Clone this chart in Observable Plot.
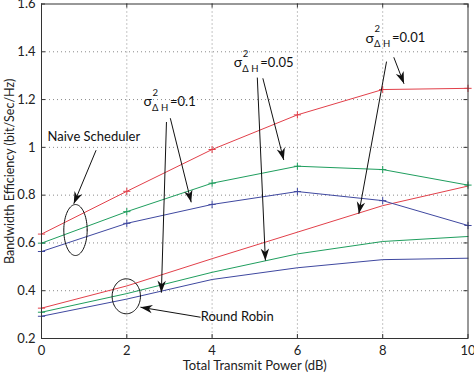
<!DOCTYPE html>
<html>
<head>
<meta charset="utf-8">
<script src="https://cdn.jsdelivr.net/npm/d3@7"></script>
<script src="https://cdn.jsdelivr.net/npm/@observablehq/plot@0.6"></script>
<style>
  html, body { margin: 0; padding: 0; background: #fff; }
  #chart { width: 474px; height: 373px; }
</style>
</head>
<body>
<div id="chart"></div>
<script>
// ---- data ----
const power = [0, 2, 4, 6, 8, 10];
const naive001 = [0.637, 0.816, 0.991, 1.136, 1.242, 1.247];
const naive005 = [0.599, 0.731, 0.850, 0.921, 0.907, 0.842];
const naive01  = [0.564, 0.682, 0.761, 0.815, 0.777, 0.673];
const rr001 = [0.327, 0.420, 0.534, 0.645, 0.756, 0.838];
const rr005 = [0.310, 0.388, 0.477, 0.554, 0.606, 0.627];
const rr01  = [0.293, 0.365, 0.447, 0.496, 0.530, 0.536];

const xTicks = [0, 2, 4, 6, 8, 10];
const yTicks = [0.2, 0.4, 0.6, 0.8, 1, 1.2, 1.4, 1.6];
const xLabel = "Total Transmit Power (dB)";
const yLabel = "Bandwidth Efficiency (bit/Sec/Hz)";

const red = "#e2404a", green = "#1f9e5e", blue = "#3f48a0";

// annotations (data units)
const textNotes = [
  {x: 1.227, y: 1.045, text: "Naive Scheduler"},
  {x: 4.588, y: 0.289, text: "Round Robin"}
];
const sigmaNotes = [
  {x: 2.392, y: 1.192, value: "=0.1"},
  {x: 4.509, y: 1.353, value: "=0.05"},
  {x: 7.597, y: 1.457, value: "=0.01"}
];
const arrows = [
  {x1: 1.28, y1: 0.988, x2: 0.757, y2: 0.764},
  {x1: 3.73, y1: 0.289, x2: 2.32, y2: 0.331},
  {x1: 2.93, y1: 1.106, x2: 2.81, y2: 0.392},
  {x1: 3.02, y1: 1.122, x2: 3.51, y2: 0.770},
  {x1: 5.06, y1: 1.292, x2: 5.25, y2: 0.526},
  {x1: 5.19, y1: 1.289, x2: 5.68, y2: 0.947},
  {x1: 8.09, y1: 1.359, x2: 7.44, y2: 0.722},
  {x1: 8.26, y1: 1.377, x2: 8.50, y2: 1.266}
];
const ellipses = [
  {cx: 0.797, cy: 0.654, rx: 0.274, ry: 0.1067},
  {cx: 1.988, cy: 0.3766, rx: 0.332, ry: 0.0732}
];

// ---- layout ----
const W = 474, H = 373, mL = 41, mR = 6.5, mT = 3.5, mB = 35;
const fw = W - mL - mR, fh = H - mT - mB;
const font = "Lato, 'Open Sans', sans-serif";
const xDomain = [0, 10], yDomain = [0.2, 1.6];
const kx = fw / (xDomain[1] - xDomain[0]);
const ky = fh / (yDomain[1] - yDomain[0]);

// ---- build tables ----
const toRows = (ys, series) => power.map((x, i) => ({x, y: ys[i], series}));
const naiveRows = [
  ...toRows(naive001, "n001"), ...toRows(naive005, "n005"), ...toRows(naive01, "n01")
];
const rrRows = [
  ...toRows(rr001, "r001"), ...toRows(rr005, "r005"), ...toRows(rr01, "r01")
];
const colorOf = s => s.endsWith("001") ? red : s.endsWith("005") ? green : blue;

const ellipseRows = ellipses.flatMap((e, k) =>
  d3.range(0, 73).map(i => {
    const t = (i / 72) * 2 * Math.PI;
    return {k, x: e.cx + e.rx * Math.cos(t), y: e.cy + e.ry * Math.sin(t)};
  })
);

// arrow heads: rotation in screen space
const headRows = arrows.map(a => {
  const dxp = (a.x2 - a.x1) * kx, dyp = -(a.y2 - a.y1) * ky;
  return {x: a.x2, y: a.y2, angle: Math.atan2(dxp, -dyp) * 180 / Math.PI};
});

const plusSymbol = {
  draw(ctx, size) {
    const r = Math.sqrt(size / Math.PI);
    ctx.moveTo(-r, 0); ctx.lineTo(r, 0);
    ctx.moveTo(0, -r); ctx.lineTo(0, r);
  }
};
const headSymbol = {
  draw(ctx) {
    ctx.moveTo(0, 0);
    ctx.lineTo(4.2, 12);
    ctx.lineTo(0, 8.5);
    ctx.lineTo(-4.2, 12);
    ctx.closePath();
  }
};

const chart = Plot.plot({
  width: W, height: H,
  marginLeft: mL, marginRight: mR, marginTop: mT, marginBottom: mB,
  style: {fontFamily: font, fontSize: "13px", background: "#fff", color: "#222"},
  x: {domain: xDomain, label: null},
  y: {domain: yDomain, label: null},
  marks: [
    Plot.gridX([2, 4, 6, 8], {stroke: "#8a8a8a", strokeOpacity: 1, strokeDasharray: "1,3"}),
    Plot.gridY([0.4, 0.6, 0.8, 1, 1.2, 1.4], {stroke: "#8a8a8a", strokeOpacity: 1, strokeDasharray: "1,3"}),
    // inward ticks
    Plot.tickX(xTicks, {x: d => d, insetTop: fh - 4, stroke: "#333"}),
    Plot.tickX(xTicks, {x: d => d, insetBottom: fh - 4, stroke: "#333"}),
    Plot.tickY(yTicks, {y: d => d, insetRight: fw - 4, stroke: "#333"}),
    Plot.tickY(yTicks, {y: d => d, insetLeft: fw - 4, stroke: "#333"}),
    Plot.axisX(xTicks, {tickSize: 0, tickPadding: 7, fontSize: 13, tickFormat: d => String(d)}),
    Plot.axisY(yTicks, {tickSize: 0, tickPadding: 6, fontSize: 13, tickFormat: d => String(+d.toFixed(1))}),
    // series
    Plot.line(rrRows, {x: "x", y: "y", z: "series", stroke: d => colorOf(d.series), strokeWidth: 1}),
    Plot.line(naiveRows, {x: "x", y: "y", z: "series", stroke: d => colorOf(d.series), strokeWidth: 1}),
    Plot.dot(naiveRows, {x: "x", y: "y", r: 3.6, symbol: plusSymbol, stroke: d => colorOf(d.series), fill: "none", strokeWidth: 1}),
    Plot.dot(rrRows.filter(d => d.x === 0), {x: "x", y: "y", r: 3.6, symbol: plusSymbol, stroke: d => colorOf(d.series), fill: "none", strokeWidth: 1}),
    // annotations
    Plot.line(ellipseRows, {x: "x", y: "y", z: "k", stroke: "#111", strokeWidth: 1, curve: "linear"}),
    Plot.link(arrows, {x1: "x1", y1: "y1", x2: "x2", y2: "y2", stroke: "#111", strokeWidth: 1}),
    Plot.dot(headRows, {x: "x", y: "y", rotate: "angle", symbol: headSymbol, r: 4, fill: "#111", stroke: "none"}),
    Plot.text(textNotes, {x: "x", y: "y", text: "text", fontSize: 13, fill: "#111"}),
    Plot.text(sigmaNotes, {x: "x", y: "y", text: () => "σ", textAnchor: "start", fontSize: 14, fill: "#111"}),
    Plot.text(sigmaNotes, {x: "x", y: "y", text: () => "2", textAnchor: "start", dx: 9, dy: -9, fontSize: 9.5, fill: "#111"}),
    Plot.text(sigmaNotes, {x: "x", y: "y", text: () => "Δ H", textAnchor: "start", dx: 8.5, dy: 6, fontSize: 9.5, fill: "#111"}),
    Plot.text(sigmaNotes, {x: "x", y: "y", text: "value", textAnchor: "start", dx: 26.5, fontSize: 13, fill: "#111"}),
    // axis labels
    Plot.text([xLabel], {frameAnchor: "bottom", lineAnchor: "middle", textAnchor: "middle", dy: 27.5, fontSize: 13, fill: "#222"}),
    Plot.text([yLabel], {frameAnchor: "left", rotate: -90, lineAnchor: "middle", textAnchor: "middle", dx: -32, fontSize: 12.5, fill: "#222"}),
    Plot.frame({stroke: "#333"})
  ]
});
document.getElementById("chart").appendChild(chart);
</script>
</body>
</html>
